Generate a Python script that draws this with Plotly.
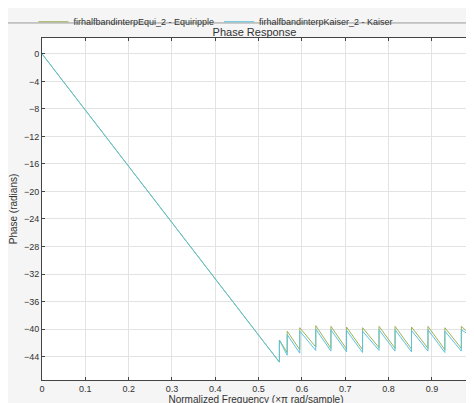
import plotly.graph_objects as go

# passband linear phase
start_f = [0.0, 0.548]
start_phase = [0.0, -44.8]
# stopband sawtooth: jump frequencies, values just before and after each jump
jump_f = [0.548, 0.566, 0.595, 0.632, 0.667, 0.703, 0.740, 0.778, 0.815, 0.853, 0.891, 0.930, 0.968]
equi_bottom = [-44.8, -43.4, -43.0, -42.6, -42.8, -42.9, -43.0, -42.7, -42.8, -42.9, -42.8, -43.0, -42.8]
equi_top = [-41.6, -40.3, -39.8, -39.5, -39.6, -39.7, -39.8, -39.6, -39.6, -39.7, -39.6, -39.8, -39.6]
kais_bottom = [-44.8, -43.8, -43.5, -43.1, -43.2, -43.3, -43.4, -43.1, -43.2, -43.3, -43.2, -43.4, -43.2]
kais_top = [-41.6, -40.8, -40.3, -40.0, -40.1, -40.2, -40.3, -40.1, -40.1, -40.2, -40.1, -40.3, -40.1]
end_f = [0.980, 0.981, 0.988]
equi_end = [-40.3, -39.5, -40.0]
kais_end = [-40.6, -39.7, -40.2]

def build(bottom, top, end_vals):
    xs = [start_f[0]]
    ys = [start_phase[0]]
    for f, b, t in zip(jump_f, bottom, top):
        xs += [f, f]
        ys += [b, t]
    xs += end_f
    ys += end_vals
    return xs, ys

ex, ey = build(equi_bottom, equi_top, equi_end)
kx, ky = build(kais_bottom, kais_top, kais_end)

fig = go.Figure()
fig.add_trace(go.Scatter(x=ex, y=ey, mode="lines", line=dict(color="#9cb35a", width=1),
                         name="firhalfbandinterpEqui_2 - Equiripple"))
fig.add_trace(go.Scatter(x=kx, y=ky, mode="lines", line=dict(color="#5cc3dc", width=1),
                         name="firhalfbandinterpKaiser_2 - Kaiser"))

axis_common = dict(showgrid=True, gridcolor="#e3e3e3", zeroline=False, showline=True,
                   linecolor="#444", linewidth=1, mirror="ticks", ticks="inside",
                   ticklen=3, tickcolor="#444", tickfont=dict(size=9, color="#333"))
fig.update_layout(
    width=474, height=403,
    paper_bgcolor="#f5f5f5", plot_bgcolor="white",
    font=dict(family="Liberation Sans, Arial", size=10, color="#333"),
    margin=dict(l=34, r=12, t=30, b=31, autoexpand=False),
    title=dict(text="Phase Response", x=0.52, xanchor="center", y=0.94, yanchor="middle",
               font=dict(size=11, color="#333")),
    legend=dict(orientation="h", x=-0.02, y=1.09, xanchor="left", yanchor="top",
                font=dict(size=9, color="#333"), bgcolor="rgba(0,0,0,0)"),
    xaxis=dict(range=[0, 0.988], tickvals=[0, 0.1, 0.2, 0.3, 0.4, 0.5, 0.6, 0.7, 0.8, 0.9],
               ticktext=["0", "0.1", "0.2", "0.3", "0.4", "0.5", "0.6", "0.7", "0.8", "0.9"],
               title=dict(text="Normalized Frequency (×π rad/sample)", standoff=2, font=dict(size=10)),
               **axis_common),
    yaxis=dict(range=[-47.4, 2.3], tickvals=list(range(0, -45, -4)),
               title=dict(text="Phase (radians)", standoff=4, font=dict(size=10)),
               **axis_common),
    showlegend=True,
)
fig.add_shape(type="line", xref="paper", yref="paper", x0=-0.08, x1=1.05, y0=1.044, y1=1.044,
              line=dict(color="#999", width=1))
fig.write_html("out.html")
